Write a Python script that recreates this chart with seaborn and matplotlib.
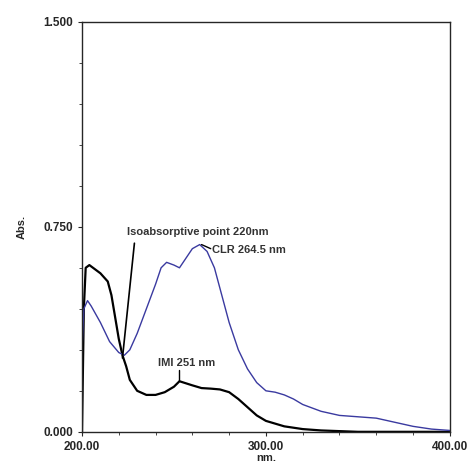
import matplotlib
matplotlib.use("Agg")
import matplotlib.pyplot as plt
import seaborn as sns
import numpy as np

imi_nm = [200,201,202,204,206,210,214,216,218,220,222,224,226,230,235,240,245,250,253,260,265,270,275,280,285,290,295,300,310,320,330,350,400]
imi_abs = [0.0,0.45,0.6,0.61,0.6,0.58,0.55,0.5,0.42,0.34,0.28,0.24,0.19,0.15,0.135,0.135,0.145,0.165,0.185,0.17,0.16,0.158,0.155,0.145,0.12,0.09,0.06,0.04,0.02,0.01,0.005,0.0,0.0]
clr_nm = [200,201,203,205,210,215,220,223,226,230,235,240,243,246,250,253,256,260,264,268,272,276,280,285,290,295,300,305,310,315,320,330,340,350,360,370,380,390,400]
clr_abs = [0.3,0.45,0.48,0.46,0.4,0.33,0.29,0.28,0.3,0.36,0.45,0.54,0.6,0.62,0.61,0.6,0.63,0.67,0.685,0.66,0.6,0.5,0.4,0.3,0.23,0.18,0.15,0.145,0.135,0.12,0.1,0.075,0.06,0.055,0.05,0.035,0.02,0.01,0.005]

sns.set_style("ticks")
plt.rcParams['font.family'] = ['Liberation Sans', 'DejaVu Sans']
fig = plt.figure(figsize=(4.74, 4.74), dpi=100)
ax = fig.add_axes([0.173, 0.089, 0.776, 0.865])
sns.lineplot(x=imi_nm, y=imi_abs, color="black", lw=1.6, ax=ax)
sns.lineplot(x=clr_nm, y=clr_abs, color="#3a3aa0", lw=1.0, ax=ax)
ax.set_xlim(200, 400)
ax.set_ylim(0, 1.5)
ax.set_xticks([200, 300, 400])
ax.set_xticklabels(["200.00", "300.00", "400.00"])
ax.set_xticks(np.arange(200, 401, 20), minor=True)
ax.set_yticks([0, 0.75, 1.5])
ax.set_yticklabels(["0.000", "0.750", "1.500"])
ax.set_yticks(np.arange(0, 1.51, 0.15), minor=True)
ax.tick_params(labelsize=8.5, direction="out", length=3)
for l in ax.get_xticklabels() + ax.get_yticklabels():
    l.set_fontweight("bold")
ax.set_xlabel("nm.", fontsize=8, labelpad=0, fontweight="bold")
ax.set_ylabel("Abs.", fontsize=8, labelpad=12, fontweight="bold")
for s in ax.spines.values():
    s.set_linewidth(1.0)

ax.plot([222, 228.5], [0.27, 0.69], color="black", lw=1.2)
ax.text(224.5, 0.72, "Isoabsorptive point 220nm", fontsize=8, color="#333333", fontweight="bold")
ax.plot([265, 270], [0.685, 0.67], color="black", lw=1.0)
ax.text(270.5, 0.665, "CLR 264.5 nm", fontsize=8, color="#333333", va="center", fontweight="bold")
ax.plot([252.5, 252.5], [0.185, 0.225], color="black", lw=1.0)
ax.text(241.5, 0.24, "IMI 251 nm", fontsize=8, color="#333333", fontweight="bold")
fig.savefig("out.png", dpi=100)
